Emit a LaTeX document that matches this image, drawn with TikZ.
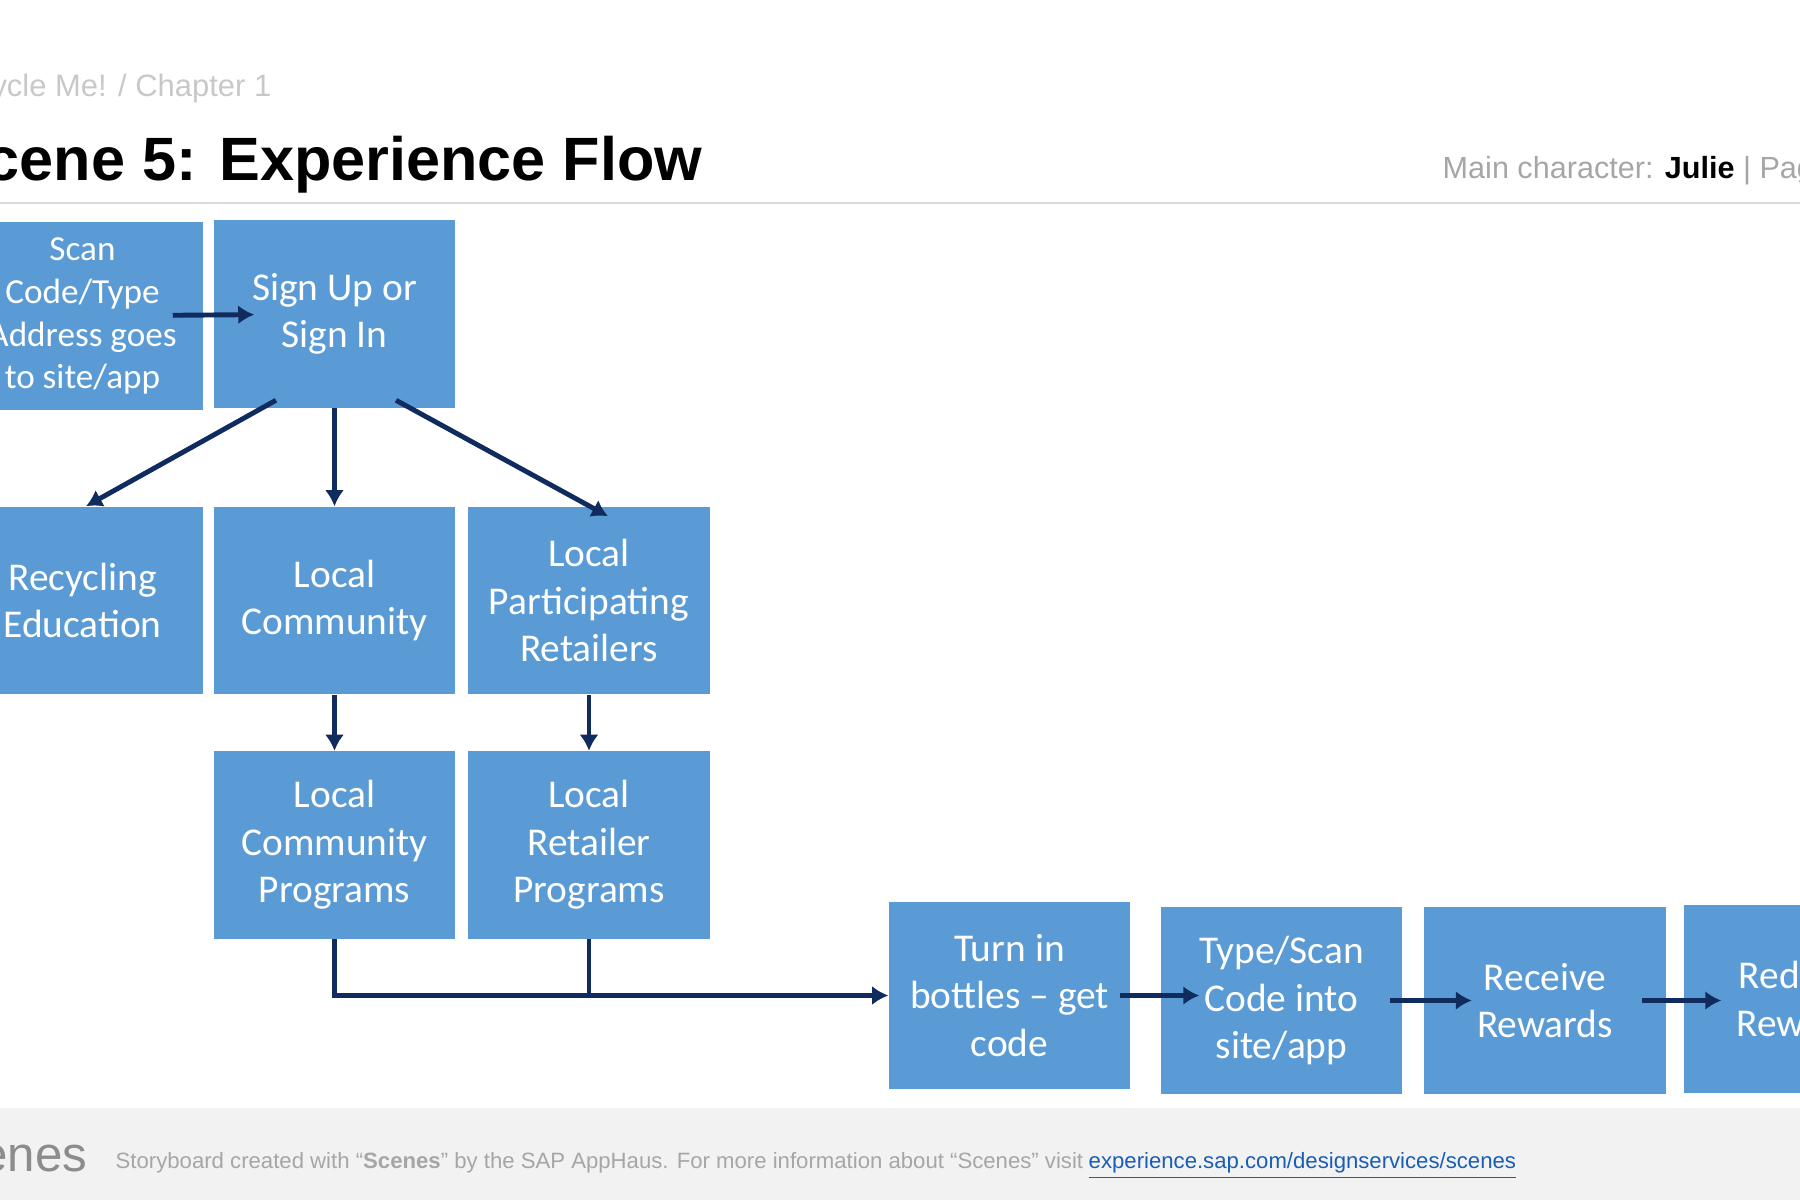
\documentclass[tikz,border=0pt]{standalone}
\usepackage{fontspec}
\setmainfont{Carlito}
\newfontfamily\headfont{Liberation Sans}
\usetikzlibrary{arrows.meta,positioning}
\definecolor{boxblue}{HTML}{5B9BD5}
\definecolor{navy}{HTML}{102B5E}
\definecolor{subgray}{HTML}{C8C8C8}
\definecolor{headgray}{HTML}{A6A6A6}
\definecolor{rulegray}{HTML}{DADADA}
\definecolor{footgray}{HTML}{F2F2F2}
\definecolor{logogray}{HTML}{8C8C8C}
\definecolor{linkblue}{HTML}{1A5DB8}

\begin{document}
\begin{tikzpicture}[x=0.01cm, y=-0.01cm,
  box/.style={fill=boxblue, text=white, minimum width=2.41cm, minimum height=1.87cm,
    align=center, inner sep=0pt, font=\fontsize{11.2}{13.5}\selectfont},
  flow/.style={draw=navy, line width=1.4pt, -{Latex[length=1.6mm, width=1.9mm]}},
  plain/.style={inner sep=0pt}]
  \useasboundingbox (0,0) rectangle (1800,1200);
  \clip (0,0) rectangle (1800,1200);
  \node[plain, anchor=base east, text=subgray, font=\headfont\fontsize{8.8}{11}\selectfont] (chapter) at (272,97) {Recycle Me! / Chapter 1};
  \node[plain, anchor=base east, font=\headfont\bfseries\fontsize{17.4}{21}\selectfont] (title) at (703,180) {Scene 5: Experience Flow};
  \node[plain, anchor=base west, text=headgray, font=\headfont\fontsize{8.7}{10}\selectfont] (character) at (1442,178) {Main character: {\color{black}\bfseries Julie} | Page};
  \draw[rulegray, line width=0.6pt] (0,203) -- (1800,203);
  \fill[footgray] (0,1108) rectangle (1800,1200);
  \node[plain, anchor=base east, text=logogray, font=\headfont\fontsize{14}{16}\selectfont] (logo) at (88,1171) {Scenes};
  \node[plain, anchor=base west, text=headgray, font=\headfont\fontsize{6.3}{7}\selectfont] (credit) at (115,1168) {Storyboard created with “\textbf{Scenes}” by the SAP AppHaus. For more information about “Scenes” visit};
  \node[plain, anchor=base west, text=linkblue, font=\headfont\fontsize{6.3}{7}\selectfont] (link) at (1088,1168) {\underline{experience.sap.com/designservices/scenes}};
  \node[box, font=\fontsize{10}{12.2}\selectfont] (scan) at (82.5,316) {Scan\\Code/Type\\Address goes\\to site/app};
  \node[box] (sign) at (334.5,314) {Sign Up or\\Sign In};
  \node[box] (edu) at (82.5,600.5) {Recycling\\Education};
  \node[box] (comm) at (334.5,600.5) {Local\\Community};
  \node[box] (retail) at (589,600.5) {Local\\Participating\\Retailers};
  \node[box] (commprog) at (334.5,845) {Local\\Community\\Programs};
  \node[box] (retprog) at (589,845) {Local\\Retailer\\Programs};
  \node[box] (turnin) at (1009.5,995.5) {Turn in\\bottles -- get\\code};
  \node[box] (typescan) at (1281.5,1000.5) {Type/Scan\\Code into\\site/app};
  \node[box] (receive) at (1545,1000.5) {Receive\\Rewards};
  \node[box] (redeem) at (1804.5,999) {Redeem\\Rewards};
  \draw[flow, shorten <=-0.31cm, shorten >=-0.41cm] (scan) -- (sign);
  \draw[flow] ([xshift=-0.585cm, yshift=0.08cm]sign.south) -- ([xshift=0.035cm]edu.north);
  \draw[flow] (sign) -- (comm);
  \draw[flow] ([xshift=0.615cm, yshift=0.08cm]sign.south) -- ([xshift=0.19cm, yshift=-0.1cm]retail.north);
  \draw[flow] (comm) -- (commprog);
  \draw[flow] (retail) -- (retprog);
  \draw[flow] (commprog) |- (turnin);
  \draw[draw=navy, line width=1.4pt] (retprog) -- (retprog |- turnin);
  \draw[flow, shorten <=-0.11cm, shorten >=-0.39cm] (turnin.east) -- (turnin.east -| typescan.west);
  \draw[flow, shorten <=-0.13cm, shorten >=-0.48cm] (typescan) -- (receive);
  \draw[flow, shorten <=-0.24cm, shorten >=-0.38cm] (receive.east) -- (receive.east -| redeem.west);
\end{tikzpicture}
\end{document}
